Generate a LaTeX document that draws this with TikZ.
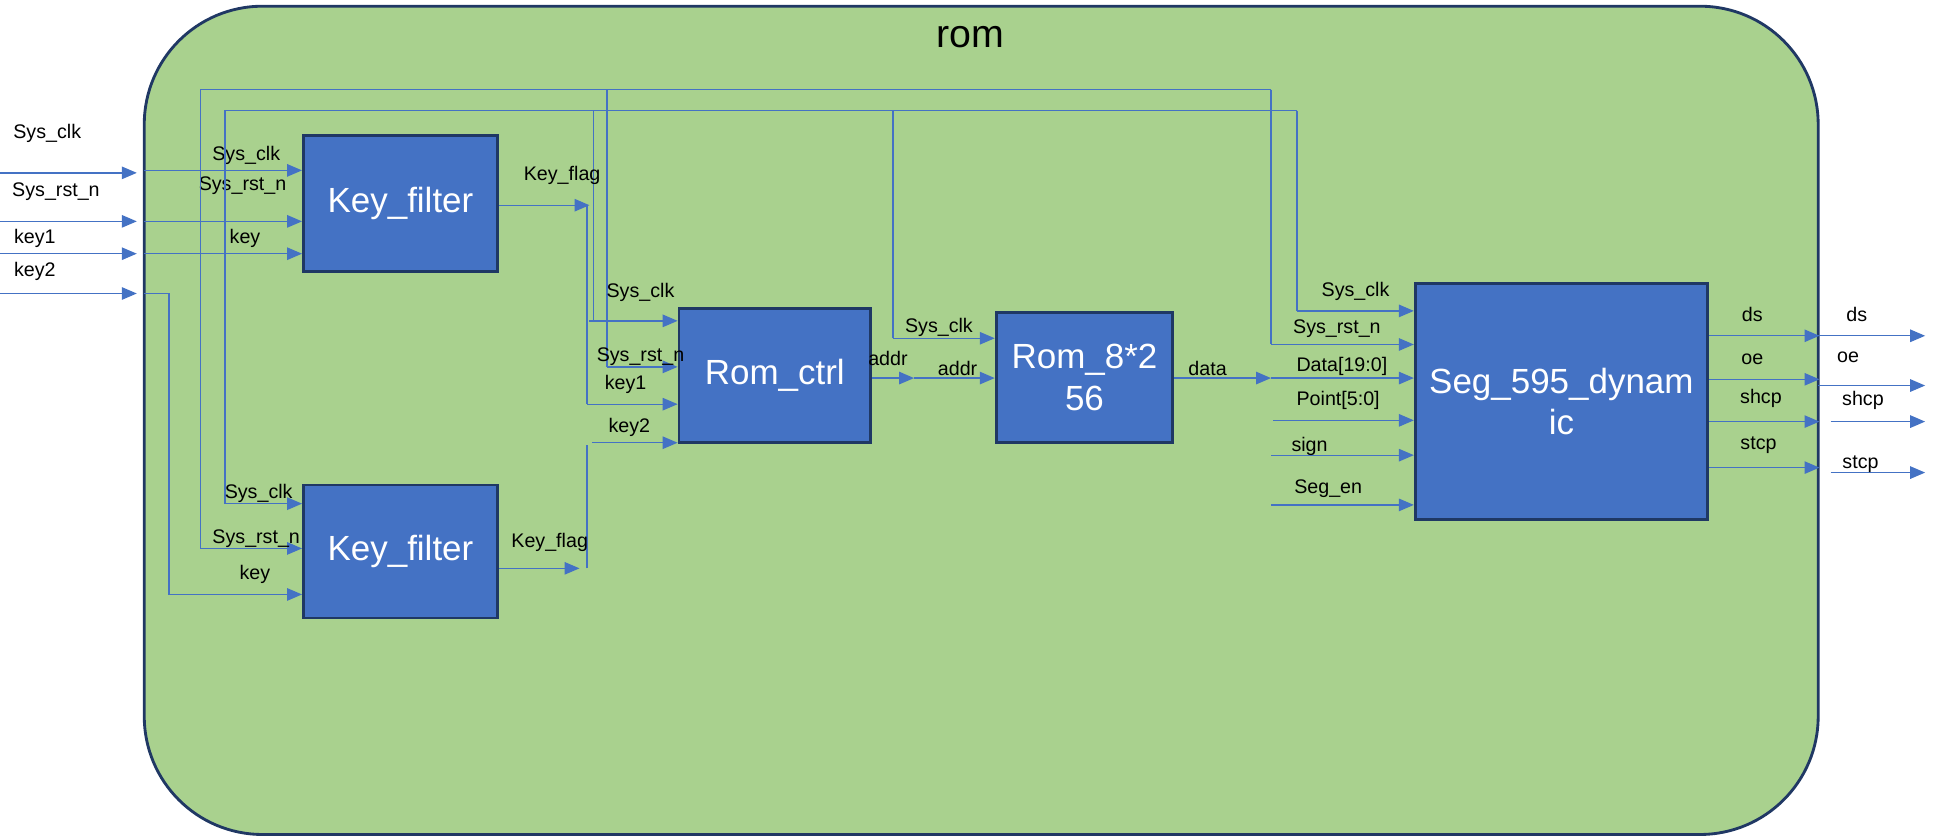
\documentclass[tikz,border=0pt]{standalone}
\usepackage{fontspec}
\setmainfont{Liberation Sans}
\usetikzlibrary{arrows.meta}
\definecolor{bg}{HTML}{A9D18E}
\definecolor{bgb}{HTML}{203864}
\definecolor{blk}{HTML}{4472C4}
\definecolor{blkb}{HTML}{1F3864}
\begin{document}
\begin{tikzpicture}[x=0.02cm,y=-0.02cm,
  box/.style={draw=blkb,line width=1.3pt,fill=blk,text=white,font=\fontsize{16}{19}\selectfont,align=center,inner sep=0pt},
  sig/.style={draw=blk,line width=0.6pt},
  arr/.style={sig,-{Triangle[length=0.24cm,width=0.2cm]}},
  lab/.style={font=\fontsize{9}{10}\selectfont,inner sep=0pt}]
\useasboundingbox (0,0) rectangle (1568,672);
\draw[draw=bgb,line width=1.3pt,fill=bg,rounded corners=1.9cm] (116,5) rectangle (1462,671);
\node[font=\fontsize{18}{20}\selectfont] (title) at (780,30) {rom};
% boxes
\node[box,minimum width=3.12cm,minimum height=2.18cm] (kf1) at (322,163.5) {Key\_filter};
\node[box,minimum width=3.12cm,minimum height=2.14cm] (kf2) at (322,443.5) {Key\_filter};
\node[box,minimum width=3.08cm,minimum height=2.16cm] (rc) at (623,302) {Rom\_ctrl};
\node[box,minimum width=2.84cm,minimum height=2.1cm] (rm) at (872,303.5) {Rom\_8*2\\56};
\node[box,minimum width=4.7cm,minimum height=3.8cm] (seg) at (1255.5,323) {Seg\_595\_dynam\\ic};
% outer inputs
\coordinate (iclk) at (0,139); \coordinate (irst) at (0,178);
\coordinate (ik1) at (0,204); \coordinate (ik2) at (0,236);
\coordinate (eclk) at (110,139); \coordinate (erst) at (110,178);
\coordinate (ek1) at (110,204); \coordinate (ek2) at (110,236);
\draw[arr] (iclk) -- (eclk);
\draw[arr] (irst) -- (erst);
\draw[arr] (ik1) -- (ek1);
\draw[arr] (ik2) -- (ek2);
\node[lab] (l1) at (38,107) {Sys\_clk};
\node[lab] (l2) at (45,154) {Sys\_rst\_n};
\node[lab] (l3) at (28,192) {key1};
\node[lab] (l4) at (28,218) {key2};
% internal to kf1
\coordinate (bclk) at (116,137); \coordinate (brst) at (116,178);
\coordinate (bk1) at (116,204); \coordinate (bk2) at (116,236);
\draw[arr] (bclk) -- (kf1.west |- bclk);
\draw[arr] (brst) -- (kf1.west |- brst);
\draw[arr] (bk1) -- (kf1.west |- bk1);
\draw[arr] (bk2) -- (136,236) -- (136,478) -- (kf2.west |- 0,478);
\node[lab] (l5) at (198,125) {Sys\_clk};
\node[lab] (l6) at (195,149) {Sys\_rst\_n};
\node[lab] (l7) at (197,192) {key};
% global buses
\coordinate (rstT) at (161,72); \coordinate (clkT) at (181,89);
\draw[sig] (1022,72) -- (rstT) -- (161,441);
\draw[arr] (161,441) -- (kf2.west |- 0,441);
\draw[sig] (1043,89) -- (clkT) -- (181,405);
\draw[arr] (181,405) -- (kf2.west |- 0,405);
\node[lab] (l8) at (208,397) {Sys\_clk};
\node[lab] (l9) at (206,433) {Sys\_rst\_n};
\node[lab] (l10) at (205,462) {key};
% Rom_ctrl inputs
\draw[sig] (488,72) -- (488,295);
\draw[arr] (488,295) -- (rc.west |- 0,295);
\draw[sig] (477,89) -- (477,258);
\draw[arr] (474,258) -- (rc.west |- 0,258);
\node[lab] (l11) at (515,235) {Sys\_clk};
\node[lab] (l12) at (515,287) {Sys\_rst\_n};
\node[lab] (l13) at (503,309) {key1};
\node[lab] (l14) at (506,344) {key2};
% key flags
\coordinate (kf1o) at (474,165);
\draw[arr] (kf1.east |- kf1o) -- (kf1o);
\draw[sig] (472,165) -- (472,325);
\draw[arr] (472,325) -- (rc.west |- 0,325);
\node[lab] (l15) at (452,141) {Key\_flag};
\coordinate (kf2o) at (466,457);
\draw[arr] (kf2.east |- kf2o) -- (kf2o);
\draw[sig] (472,457) -- (472,358);
\draw[arr] (476,356) -- (rc.west |- 0,356);
\node[lab] (l16) at (442,436) {Key\_flag};
% rom
\draw[sig] (718,89) -- (718,272);
\draw[arr] (718,272) -- (rm.west |- 0,272);
\node[lab] (l17) at (755,263) {Sys\_clk};
\coordinate (am) at (735,304);
\draw[arr] (rc.east |- am) -- (am);
\draw[arr] (am) -- (rm.west |- am);
\node[lab] (l18) at (714,288) {addr};
\node[lab] (l19) at (770,296) {addr};
\coordinate (dm) at (1022,304);
\draw[arr] (rm.east |- dm) -- (dm);
\node[lab] (l20) at (971,296) {data};
% seg inputs
\draw[sig] (1043,89) -- (1043,250);
\draw[arr] (1043,250) -- (seg.west |- 0,250);
\draw[sig] (1022,72) -- (1022,277);
\draw[arr] (1022,277) -- (seg.west |- 0,277);
\draw[arr] (dm) -- (seg.west |- dm);
\draw[arr] (1024,338) -- (seg.west |- 0,338);
\draw[arr] (1022,366) -- (seg.west |- 0,366);
\draw[arr] (1022,406) -- (seg.west |- 0,406);
\node[lab] (s1) at (1090,234) {Sys\_clk};
\node[lab] (s2) at (1075,264) {Sys\_rst\_n};
\node[lab] (s3) at (1079,295) {Data[19:0]};
\node[lab] (s4) at (1076,322) {Point[5:0]};
\node[lab] (s5) at (1053,359) {sign};
\node[lab] (s6) at (1068,393) {Seg\_en};
% outputs
\foreach \n/\ya/\yb/\xb/\la/\lb/\ly in {ds/270/270/1462/253/253/253, oe/305/310/1462/289/287/287, shcp/339/339/1472/320/321/321, stcp/376/380/1472/358/373/373}{
  \coordinate (o\n) at (1463,\ya);
  \draw[arr] (seg.east |- 0,\ya) -- (o\n);
  \coordinate (p\n) at (\xb,\yb); \coordinate (q\n) at (1548,\yb);
  \draw[arr] (p\n) -- (q\n);
}
\node[lab] (o1) at (1409,253) {ds};
\node[lab] (o2) at (1493,253) {ds};
\node[lab] (o3) at (1409,289) {oe};
\node[lab] (o4) at (1486,287) {oe};
\node[lab] (o5) at (1416,320) {shcp};
\node[lab] (o6) at (1498,322) {shcp};
\node[lab] (o7) at (1414,358) {stcp};
\node[lab] (o8) at (1496,373) {stcp};
\end{tikzpicture}
\end{document}
